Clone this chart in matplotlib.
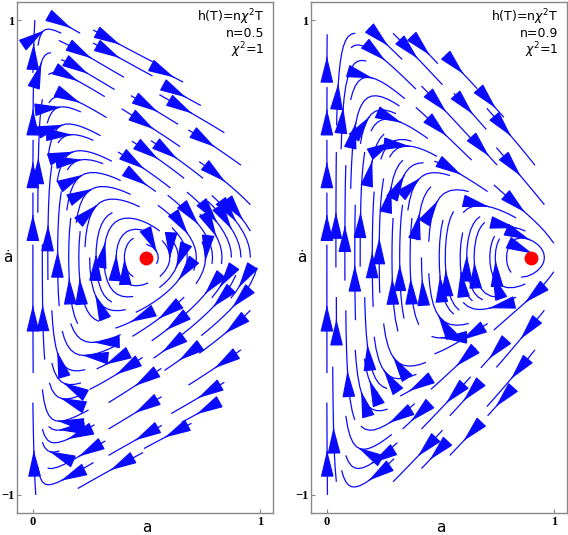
import numpy as np
import matplotlib
matplotlib.use("Agg")
import matplotlib.pyplot as plt

# panel parameters
n_values = [0.5, 0.9]
chi2 = 1
eq_a = [0.5, 0.9]      # red fixed points (a, adot)
eq_adot = [0.0, 0.0]
xticks = [0, 1]
yticks = [-1, 1]

# phase-space grid (a >= 0, a^2 + adot^2 <= 1)
a = np.linspace(0, 1, 161)
ad = np.linspace(-1, 1, 321)
A, AD = np.meshgrid(a, ad)
R2 = A**2 + AD**2


def field(n, alpha=7.0, p=1.5):
    x = np.maximum(A, 0.01)
    u = AD
    v = (n / x) ** p * (n / (1 + alpha * AD**2) - x)
    mask = R2 > 1.0
    return np.ma.masked_where(mask, u), np.ma.masked_where(mask, v)


fig = plt.figure(figsize=(5.68, 5.35), dpi=100)
lefts = [17 / 568, 311 / 568]

for i, n in enumerate(n_values):
    ax = fig.add_axes([lefts[i], 1 - 513 / 535, 256 / 568, 511 / 535])
    u, v = field(n)
    ax.streamplot(a, ad, u, v, density=(0.85, 1.25), color='#0a0aff',
                  linewidth=0.9, arrowsize=3.7,
                  arrowstyle='-|>,head_length=0.45,head_width=0.11',
                  maxlength=0.5, minlength=0.08)
    ax.plot(eq_a[i], eq_adot[i], 'o', color='red', ms=9, zorder=5)

    ax.set_xlim(-0.07, 1.058)
    ax.set_ylim(-1.076, 1.076)
    for s in ax.spines.values():
        s.set_color('#888888')
        s.set_linewidth(1)
    ax.set_xticks(xticks)
    ax.set_yticks(yticks)
    ax.set_xticklabels(['0', '1'], family='Liberation Serif', fontweight='bold', fontsize=9)
    ax.set_yticklabels(['\u22121', '1'], family='Liberation Serif', fontweight='bold', fontsize=9)
    ax.tick_params(direction='in', length=3, color='#888888', pad=2)
    ax.text(-0.09, 0, '\u0227', ha='right', va='center', fontsize=11)
    ax.text(0.5, -1.105, 'a', ha='center', va='top', fontsize=11)

    ax.text(1.02, 1.012, r'h(T)=n$\chi^2$T', ha='right', va='center', fontsize=9)
    ax.text(1.02, 0.944, 'n=%s' % n, ha='right', va='center', fontsize=9)
    ax.text(1.02, 0.874, r'$\chi^2$=%d' % chi2, ha='right', va='center', fontsize=9)

fig.savefig('out.png', dpi=100)
